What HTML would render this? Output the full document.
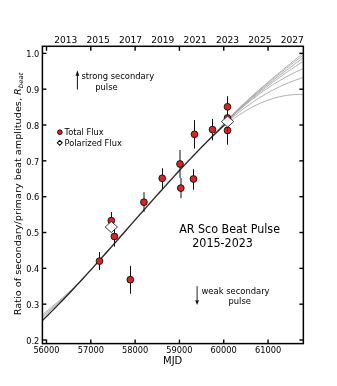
<!DOCTYPE html>
<html><head><meta charset="utf-8"><style>
html,body{margin:0;padding:0;background:#fff;}
svg{display:block;}
text{font-family:'DejaVu Sans', 'Liberation Sans', sans-serif;fill:#000;}
.cond{font-family:'DejaVu Sans Condensed','DejaVu Sans',sans-serif;font-stretch:condensed;}
</style></head><body>
<svg width="337" height="386" viewBox="0 0 337 386">
<rect x="0" y="0" width="337" height="386" fill="#fff"/>

<g fill="none" stroke="#9c9c9c" stroke-width="0.8">
<path d="M42.40,314.60 L45.31,312.29 L48.21,309.93 L51.12,307.53 L54.03,305.09 L56.93,302.60 L59.84,300.08 L62.75,297.51 L65.65,294.91 L68.56,292.26 L71.47,289.56 L74.37,286.83 L77.28,284.04 L80.19,281.21 L83.09,278.31 L86.00,275.31"/>
<path d="M42.40,316.20 L45.04,314.01 L47.68,311.78 L50.32,309.52 L52.96,307.23 L55.60,304.90 L58.24,302.54 L60.88,300.15 L63.52,297.72 L66.16,295.26 L68.80,292.77 L71.44,290.24 L74.08,287.67 L76.72,285.06 L79.36,282.40 L82.00,279.67"/>
<path d="M42.40,317.80 L44.64,315.86 L46.88,313.90 L49.12,311.91 L51.36,309.90 L53.60,307.87 L55.84,305.81 L58.08,303.73 L60.32,301.62 L62.56,299.49 L64.80,297.34 L67.04,295.16 L69.28,292.96 L71.52,290.73 L73.76,288.46 L76.00,286.15"/>
<path d="M75.00,286.32 L79.83,281.13 L84.66,275.88 L89.48,270.59 L94.31,265.25 L99.14,259.88 L103.97,254.48 L108.79,249.05 L113.62,243.59 L118.45,238.12 L123.28,232.64 L128.10,227.15 L132.93,221.66 L137.76,216.18 L142.59,210.70 L147.41,205.23 L152.24,199.79 L157.07,194.37 L161.90,188.97 L166.72,183.61 L171.55,178.29 L176.38,173.02 L181.21,167.79 L186.03,162.62 L190.86,157.51 L195.69,152.46 L200.52,147.48 L205.34,142.58 L210.17,137.75 L215.00,133.01"/>
<path d="M212.00,136.84 L214.33,134.16 L216.65,131.53 L218.98,128.94 L221.31,126.40 L223.63,123.89 L225.96,121.43 L228.29,119.00 L230.62,116.61 L232.94,114.25 L235.27,111.93 L237.60,109.64 L239.92,107.38 L242.25,105.15 L244.58,102.95 L246.90,100.77 L249.23,98.63 L251.56,96.50 L253.88,94.40 L256.21,92.33 L258.54,90.27 L260.87,88.24 L263.19,86.22 L265.52,84.22 L267.85,82.23 L270.17,80.26 L272.50,78.30 L274.83,76.35 L277.15,74.42 L279.48,72.49 L281.81,70.57 L284.13,68.66 L286.46,66.75 L288.79,64.85 L291.12,62.95 L293.44,61.05 L295.77,59.15 L298.10,57.25 L300.42,55.34 L302.75,53.44"/>
<path d="M212.00,136.83 L214.33,134.21 L216.65,131.62 L218.98,129.08 L221.31,126.57 L223.63,124.11 L225.96,121.68 L228.29,119.29 L230.62,116.94 L232.94,114.62 L235.27,112.33 L237.60,110.08 L239.92,107.85 L242.25,105.66 L244.58,103.50 L246.90,101.36 L249.23,99.25 L251.56,97.17 L253.88,95.11 L256.21,93.07 L258.54,91.06 L260.87,89.07 L263.19,87.09 L265.52,85.14 L267.85,83.21 L270.17,81.29 L272.50,79.38 L274.83,77.49 L277.15,75.62 L279.48,73.75 L281.81,71.90 L284.13,70.06 L286.46,68.23 L288.79,66.40 L291.12,64.58 L293.44,62.77 L295.77,60.96 L298.10,59.15 L300.42,57.34 L302.75,55.54"/>
<path d="M212.00,136.83 L214.33,134.26 L216.65,131.73 L218.98,129.23 L221.31,126.78 L223.63,124.37 L225.96,121.99 L228.29,119.65 L230.62,117.35 L232.94,115.08 L235.27,112.84 L237.60,110.64 L239.92,108.47 L242.25,106.33 L244.58,104.22 L246.90,102.14 L249.23,100.08 L251.56,98.06 L253.88,96.06 L256.21,94.08 L258.54,92.13 L260.87,90.20 L263.19,88.29 L265.52,86.40 L267.85,84.53 L270.17,82.69 L272.50,80.86 L274.83,79.04 L277.15,77.25 L279.48,75.46 L281.81,73.70 L284.13,71.94 L286.46,70.20 L288.79,68.47 L291.12,66.75 L293.44,65.03 L295.77,63.33 L298.10,61.63 L300.42,59.94 L302.75,58.25"/>
<path d="M212.00,136.83 L214.33,134.30 L216.65,131.82 L218.98,129.37 L221.31,126.96 L223.63,124.59 L225.96,122.27 L228.29,119.97 L230.62,117.72 L232.94,115.50 L235.27,113.32 L237.60,111.17 L239.92,109.05 L242.25,106.97 L244.58,104.92 L246.90,102.90 L249.23,100.91 L251.56,98.95 L253.88,97.02 L256.21,95.12 L258.54,93.24 L260.87,91.39 L263.19,89.57 L265.52,87.77 L267.85,85.99 L270.17,84.24 L272.50,82.50 L274.83,80.79 L277.15,79.10 L279.48,77.43 L281.81,75.78 L284.13,74.14 L286.46,72.53 L288.79,70.92 L291.12,69.34 L293.44,67.77 L295.77,66.21 L298.10,64.66 L300.42,63.13 L302.75,61.61"/>
<path d="M212.00,136.84 L214.33,134.36 L216.65,131.91 L218.98,129.50 L221.31,127.14 L223.63,124.81 L225.96,122.52 L228.29,120.28 L230.62,118.07 L232.94,115.90 L235.27,113.77 L237.60,111.68 L239.92,109.63 L242.25,107.62 L244.58,105.65 L246.90,103.72 L249.23,101.83 L251.56,99.97 L253.88,98.16 L256.21,96.38 L258.54,94.64 L260.87,92.94 L263.19,91.28 L265.52,89.66 L267.85,88.07 L270.17,86.52 L272.50,85.02 L274.83,83.54 L277.15,82.11 L279.48,80.71 L281.81,79.36 L284.13,78.03 L286.46,76.75 L288.79,75.51 L291.12,74.30 L293.44,73.12 L295.77,71.99 L298.10,70.89 L300.42,69.83 L302.75,68.81"/>
<path d="M212.00,136.84 L214.33,134.46 L216.65,132.13 L218.98,129.86 L221.31,127.63 L223.63,125.45 L225.96,123.32 L228.29,121.24 L230.62,119.20 L232.94,117.22 L235.27,115.28 L237.60,113.38 L239.92,111.54 L242.25,109.74 L244.58,107.98 L246.90,106.27 L249.23,104.61 L251.56,102.98 L253.88,101.41 L256.21,99.87 L258.54,98.38 L260.87,96.93 L263.19,95.52 L265.52,94.16 L267.85,92.84 L270.17,91.55 L272.50,90.31 L274.83,89.11 L277.15,87.95 L279.48,86.83 L281.81,85.74 L284.13,84.70 L286.46,83.69 L288.79,82.73 L291.12,81.79 L293.44,80.90 L295.77,80.04 L298.10,79.22 L300.42,78.44 L302.75,77.69"/>
<path d="M212.00,136.84 L214.33,134.66 L216.65,132.55 L218.98,130.48 L221.31,128.48 L223.63,126.52 L225.96,124.63 L228.29,122.79 L230.62,121.00 L232.94,119.28 L235.27,117.61 L237.60,115.99 L239.92,114.43 L242.25,112.93 L244.58,111.49 L246.90,110.10 L249.23,108.77 L251.56,107.50 L253.88,106.29 L256.21,105.13 L258.54,104.04 L260.87,103.00 L263.19,102.02 L265.52,101.10 L267.85,100.23 L270.17,99.43 L272.50,98.68 L274.83,98.00 L277.15,97.37 L279.48,96.80 L281.81,96.29 L284.13,95.85 L286.46,95.46 L288.79,95.13 L291.12,94.87 L293.44,94.66 L295.77,94.51 L298.10,94.43 L300.42,94.41 L302.75,94.44"/>
</g>
<path d="M42.40,320.52 L45.49,317.51 L48.59,314.47 L51.68,311.39 L54.78,308.28 L57.87,305.14 L60.97,301.96 L64.06,298.76 L67.16,295.53 L70.25,292.27 L73.35,288.98 L76.44,285.67 L79.54,282.34 L82.63,278.98 L85.73,275.61 L88.82,272.21 L91.92,268.80 L95.01,265.37 L98.11,261.93 L101.20,258.47 L104.30,255.00 L107.39,251.52 L110.49,248.03 L113.58,244.54 L116.68,241.03 L119.77,237.52 L122.87,234.00 L125.96,230.49 L129.06,226.97 L132.15,223.45 L135.25,219.93 L138.34,216.41 L141.44,212.90 L144.53,209.39 L147.63,205.89 L150.72,202.40 L153.82,198.91 L156.91,195.44 L160.01,191.98 L163.10,188.53 L166.20,185.10 L169.29,181.68 L172.39,178.28 L175.48,174.90 L178.58,171.53 L181.67,168.19 L184.77,164.87 L187.86,161.58 L190.96,158.31 L194.05,155.06 L197.15,151.85 L200.24,148.66 L203.34,145.51 L206.43,142.38 L209.53,139.29 L212.62,136.24 L215.72,133.22 L218.81,130.24 L221.91,127.29 L225.00,124.39" fill="none" stroke="#222" stroke-width="1.2"/>
<g stroke="#111" stroke-width="1.0">
<line x1="99.5" y1="252.1" x2="99.5" y2="270.0"/>
<line x1="130.5" y1="265.8" x2="130.5" y2="293.7"/>
<line x1="144.0" y1="192.2" x2="144.0" y2="212.0"/>
<line x1="162.5" y1="168.3" x2="162.5" y2="189.0"/>
<line x1="180.0" y1="150.0" x2="180.0" y2="178.0"/>
<line x1="181.0" y1="178.0" x2="181.0" y2="198.2"/>
<line x1="193.5" y1="169.2" x2="193.5" y2="189.7"/>
<line x1="194.5" y1="120.1" x2="194.5" y2="148.6"/>
<line x1="212.5" y1="118.9" x2="212.5" y2="140.3"/>
<line x1="111.5" y1="212.1" x2="111.5" y2="229.5"/>
<line x1="114.5" y1="226.4" x2="114.5" y2="246.6"/>
<line x1="227.5" y1="96.2" x2="227.5" y2="117.4"/>
<line x1="227.5" y1="108.0" x2="227.5" y2="128.0"/>
<line x1="227.5" y1="116.1" x2="227.5" y2="144.7"/>
</g>
<g fill="#d62728" stroke="#000" stroke-width="0.8">
<circle cx="99.5" cy="261.1" r="3.4"/>
<circle cx="130.3" cy="279.7" r="3.4"/>
<circle cx="143.9" cy="202.2" r="3.4"/>
<circle cx="162.2" cy="178.3" r="3.4"/>
<circle cx="180.0" cy="164.0" r="3.4"/>
<circle cx="180.8" cy="188.1" r="3.4"/>
<circle cx="193.5" cy="179.0" r="3.4"/>
<circle cx="194.5" cy="134.3" r="3.4"/>
<circle cx="212.5" cy="129.6" r="3.4"/>
<circle cx="111.3" cy="220.7" r="3.4"/>
<circle cx="114.4" cy="236.5" r="3.4"/>
<circle cx="227.5" cy="106.8" r="3.4"/>
<circle cx="227.5" cy="118.0" r="3.4"/>
<circle cx="227.5" cy="130.4" r="3.4"/>
</g>
<path d="M105.15,227.00 L111.30,221.50 L117.45,227.00 L111.30,232.50 Z" fill="#fff" fill-opacity="0.92" stroke="#111" stroke-width="0.8"/>
<path d="M221.40,121.60 L227.60,116.15 L233.80,121.60 L227.60,127.05 Z" fill="#fff" fill-opacity="0.92" stroke="#111" stroke-width="0.8"/>
<line x1="227.5" y1="127.2" x2="227.5" y2="133.8" stroke="#000" stroke-opacity="0.35" stroke-width="1"/>
<circle cx="59.85" cy="132.2" r="2.35" fill="#d62728" stroke="#000" stroke-width="0.9"/>
<path d="M57.30,142.85 L59.75,140.40 L62.20,142.85 L59.75,145.30 Z" fill="#fff" stroke="#000" stroke-width="1.05"/>
<text x="64.6" y="135.4" font-size="8.25">Total Flux</text>
<text x="64.6" y="146.4" font-size="8.25">Polarized Flux</text>
<line x1="77.4" y1="89.5" x2="77.4" y2="75" stroke="#111" stroke-width="1"/>
<path d="M77.4,70.2 L79.2,75.8 L75.6,75.8 Z" fill="#111"/>
<text x="81.45" y="79.4" font-size="8.4">strong secondary</text>
<text x="95.2" y="90.0" font-size="8.4">pulse</text>
<line x1="197.1" y1="286.2" x2="197.1" y2="300" stroke="#222" stroke-width="1"/>
<path d="M197.1,305.1 L199.0,300.2 L195.2,300.2 Z" fill="#111"/>
<text x="201.5" y="293.9" font-size="8.4">weak secondary</text>
<text x="228.5" y="303.9" font-size="8.4">pulse</text>
<text x="179.2" y="232.6" font-size="12.37" class="cond">AR Sco Beat Pulse</text>
<text x="192.3" y="246.7" font-size="12.37" class="cond">2015-2023</text>
<g stroke="#000" stroke-width="1.4" fill="none">
<line x1="46.50" y1="343.6" x2="46.50" y2="339.6"/>
<line x1="46.50" y1="46.3" x2="46.50" y2="50.8"/>
<line x1="90.81" y1="343.6" x2="90.81" y2="339.6"/>
<line x1="90.81" y1="46.3" x2="90.81" y2="50.8"/>
<line x1="135.12" y1="343.6" x2="135.12" y2="339.6"/>
<line x1="135.12" y1="46.3" x2="135.12" y2="50.8"/>
<line x1="179.43" y1="343.6" x2="179.43" y2="339.6"/>
<line x1="179.43" y1="46.3" x2="179.43" y2="50.8"/>
<line x1="223.74" y1="343.6" x2="223.74" y2="339.6"/>
<line x1="223.74" y1="46.3" x2="223.74" y2="50.8"/>
<line x1="268.05" y1="343.6" x2="268.05" y2="339.6"/>
<line x1="268.05" y1="46.3" x2="268.05" y2="50.8"/>
<line x1="42.4" y1="340.00" x2="46.4" y2="340.00"/>
<line x1="303.35" y1="340.00" x2="299.35" y2="340.00"/>
<line x1="42.4" y1="304.17" x2="46.4" y2="304.17"/>
<line x1="303.35" y1="304.17" x2="299.35" y2="304.17"/>
<line x1="42.4" y1="268.34" x2="46.4" y2="268.34"/>
<line x1="303.35" y1="268.34" x2="299.35" y2="268.34"/>
<line x1="42.4" y1="232.51" x2="46.4" y2="232.51"/>
<line x1="303.35" y1="232.51" x2="299.35" y2="232.51"/>
<line x1="42.4" y1="196.68" x2="46.4" y2="196.68"/>
<line x1="303.35" y1="196.68" x2="299.35" y2="196.68"/>
<line x1="42.4" y1="160.85" x2="46.4" y2="160.85"/>
<line x1="303.35" y1="160.85" x2="299.35" y2="160.85"/>
<line x1="42.4" y1="125.01" x2="46.4" y2="125.01"/>
<line x1="303.35" y1="125.01" x2="299.35" y2="125.01"/>
<line x1="42.4" y1="89.18" x2="46.4" y2="89.18"/>
<line x1="303.35" y1="89.18" x2="299.35" y2="89.18"/>
<line x1="42.4" y1="53.35" x2="46.4" y2="53.35"/>
<line x1="303.35" y1="53.35" x2="299.35" y2="53.35"/>
</g>
<rect x="42.4" y="46.3" width="260.95" height="297.30" fill="none" stroke="#000" stroke-width="1.5"/>
<text x="46.50" y="353.3" font-size="8.25" text-anchor="middle">56000</text>
<text x="90.81" y="353.3" font-size="8.25" text-anchor="middle">57000</text>
<text x="135.12" y="353.3" font-size="8.25" text-anchor="middle">58000</text>
<text x="179.43" y="353.3" font-size="8.25" text-anchor="middle">59000</text>
<text x="223.74" y="353.3" font-size="8.25" text-anchor="middle">60000</text>
<text x="268.05" y="353.3" font-size="8.25" text-anchor="middle">61000</text>
<text x="39.3" y="343.70" font-size="8.2" text-anchor="end">0.2</text>
<text x="39.3" y="307.87" font-size="8.2" text-anchor="end">0.3</text>
<text x="39.3" y="272.04" font-size="8.2" text-anchor="end">0.4</text>
<text x="39.3" y="236.21" font-size="8.2" text-anchor="end">0.5</text>
<text x="39.3" y="200.38" font-size="8.2" text-anchor="end">0.6</text>
<text x="39.3" y="164.55" font-size="8.2" text-anchor="end">0.7</text>
<text x="39.3" y="128.71" font-size="8.2" text-anchor="end">0.8</text>
<text x="39.3" y="92.88" font-size="8.2" text-anchor="end">0.9</text>
<text x="39.3" y="57.05" font-size="8.2" text-anchor="end">1.0</text>
<text x="65.80" y="42.7" font-size="9.1" text-anchor="middle">2013</text>
<text x="98.15" y="42.7" font-size="9.1" text-anchor="middle">2015</text>
<text x="130.50" y="42.7" font-size="9.1" text-anchor="middle">2017</text>
<text x="162.85" y="42.7" font-size="9.1" text-anchor="middle">2019</text>
<text x="195.20" y="42.7" font-size="9.1" text-anchor="middle">2021</text>
<text x="227.55" y="42.7" font-size="9.1" text-anchor="middle">2023</text>
<text x="259.90" y="42.7" font-size="9.1" text-anchor="middle">2025</text>
<text x="292.25" y="42.7" font-size="9.1" text-anchor="middle">2027</text>
<text x="172.7" y="363.9" font-size="10" text-anchor="middle">MJD</text>
<text transform="translate(21.3,193.95) rotate(-90) scale(1,0.9)" font-size="9.72" text-anchor="middle">Ratio of secondary/primary beat amplitudes, <tspan font-style="italic">R</tspan><tspan font-style="italic" font-size="6.9" dy="1.7">beat</tspan></text>
</svg>
</body></html>
